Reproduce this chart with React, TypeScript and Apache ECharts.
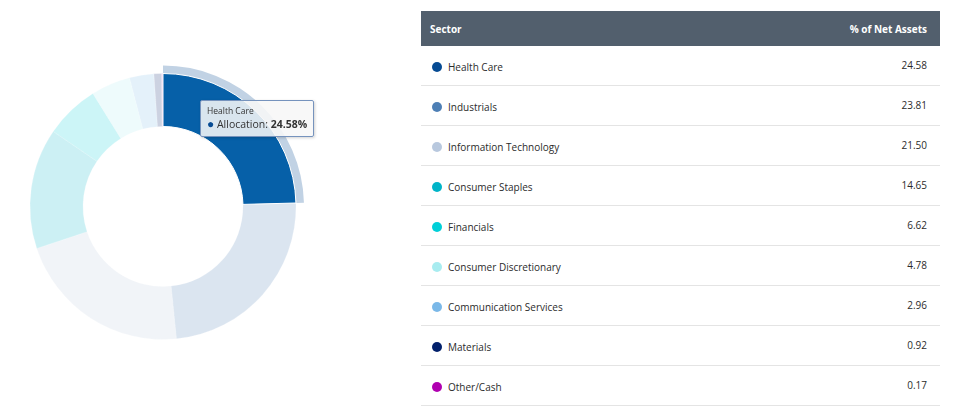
import React, { useEffect, useRef } from "react";
import * as echarts from "echarts";

// Sector allocation of the fund (% of net assets)
const sectors = [
  "Health Care",
  "Industrials",
  "Information Technology",
  "Consumer Staples",
  "Financials",
  "Consumer Discretionary",
  "Communication Services",
  "Materials",
  "Other/Cash",
];
const allocations = [24.58, 23.81, 21.5, 14.65, 6.62, 4.78, 2.96, 0.92, 0.17];
const sectorColors = [
  "#064b93",
  "#4d7fb5",
  "#b8c8de",
  "#00b4c8",
  "#00cfd8",
  "#a8ecf0",
  "#7ab8e8",
  "#02206b",
  "#b000b0",
];
const tableHeaders = ["Sector", "% of Net Assets"];

// Slice that is hovered, with its brighter hover fill and faint halo
const activeIndex = 0;
const activeHoverColor = "#0660a8";
const haloColor = "rgba(6,75,147,0.25)";

const FONT = "'Open Sans', 'Noto Sans', Arial, sans-serif";

function DonutChart() {
  const ref = useRef<HTMLDivElement>(null);

  useEffect(() => {
    if (!ref.current) return;
    const chart = echarts.init(ref.current, undefined, { renderer: "svg" });

    const pieData = sectors.map((name, i) => ({
      name,
      value: allocations[i],
      itemStyle: { color: sectorColors[i] },
      emphasis:
        i === activeIndex ? { itemStyle: { color: activeHoverColor } } : undefined,
    }));

    const haloData = sectors.map((name, i) => ({
      name,
      value: allocations[i],
      itemStyle: { color: i === activeIndex ? haloColor : "rgba(0,0,0,0)" },
    }));

    chart.setOption({
      animation: false,
      tooltip: {
        trigger: "item",
        triggerOn: "none",
        alwaysShowContent: true,
        position: [200, 100],
        backgroundColor: "rgba(247,247,247,0.88)",
        borderColor: "#7693bd",
        borderWidth: 1,
        padding: [4, 6, 4, 6],
        extraCssText:
          "box-shadow: 1px 1px 3px rgba(0,0,0,0.18); border-radius: 2px;",
        textStyle: { fontFamily: FONT, color: "#333" },
        formatter: (p: any) =>
          `<div style="font-size:8.5px;line-height:12px;color:#333">${p.name}</div>` +
          `<div style="font-size:10.5px;line-height:15px;color:#333">` +
          `<span style="color:${sectorColors[p.dataIndex]};font-size:12px;line-height:10px">\u25CF</span> ` +
          `Allocation: <b>${Number(p.value).toFixed(2)}%</b></div>`,
      },
      series: [
        {
          type: "pie",
          name: "Allocation",
          center: [163, 206.5],
          radius: [80, 133],
          startAngle: 90,
          clockwise: true,
          avoidLabelOverlap: false,
          label: { show: false },
          labelLine: { show: false },
          itemStyle: { borderColor: "#ffffff", borderWidth: 1 },
          emphasis: { scale: false, focus: "self", blurScope: "series" },
          blur: { itemStyle: { opacity: 0.2 } },
          data: pieData,
          z: 2,
        },
        {
          type: "pie",
          name: "halo",
          silent: true,
          center: [163, 206.5],
          radius: [133, 141],
          startAngle: 90,
          clockwise: true,
          label: { show: false },
          labelLine: { show: false },
          itemStyle: { borderWidth: 0 },
          emphasis: { disabled: true },
          blur: { itemStyle: { opacity: 1 } },
          tooltip: { show: false },
          data: haloData,
          z: 1,
        },
      ],
    });

    chart.dispatchAction({ type: "highlight", seriesIndex: 0, dataIndex: activeIndex });
    chart.dispatchAction({ type: "showTip", seriesIndex: 0, dataIndex: activeIndex });

    return () => chart.dispose();
  }, []);

  return (
    <div
      ref={ref}
      style={{ position: "absolute", left: 0, top: 0, width: 330, height: 412 }}
    />
  );
}

function AllocationTable() {
  return (
    <div
      style={{
        position: "absolute",
        left: 421,
        top: 11,
        width: 519,
        fontFamily: FONT,
        fontSize: 10,
        color: "#2b2b2b",
      }}
    >
      <div
        style={{
          height: 35,
          background: "#525f6d",
          color: "#fff",
          fontWeight: 700,
          display: "flex",
          alignItems: "center",
          justifyContent: "space-between",
          padding: "0 13px 0 9px",
          boxSizing: "border-box",
        }}
      >
        <span>{tableHeaders[0]}</span>
        <span>{tableHeaders[1]}</span>
      </div>
      {sectors.map((name, i) => (
        <div
          key={name}
          style={{
            height: 40,
            borderBottom: "1px solid #e4e4e4",
            boxSizing: "border-box",
            display: "flex",
            alignItems: "center",
            justifyContent: "space-between",
            padding: "0 13px 0 11px",
          }}
        >
          <span style={{ display: "flex", alignItems: "center", marginTop: 2 }}>
            <span
              style={{
                display: "inline-block",
                width: 10,
                height: 10,
                borderRadius: "50%",
                background: sectorColors[i],
                marginRight: 6,
              }}
            />
            {name}
          </span>
          <span style={{ marginTop: -2 }}>{allocations[i].toFixed(2)}</span>
        </div>
      ))}
    </div>
  );
}

export default function App() {
  return (
    <div
      style={{
        position: "absolute",
        left: 0,
        top: 0,
        width: 962,
        height: 412,
        background: "#fff",
        overflow: "hidden",
      }}
    >
      <DonutChart />
      <AllocationTable />
    </div>
  );
}
